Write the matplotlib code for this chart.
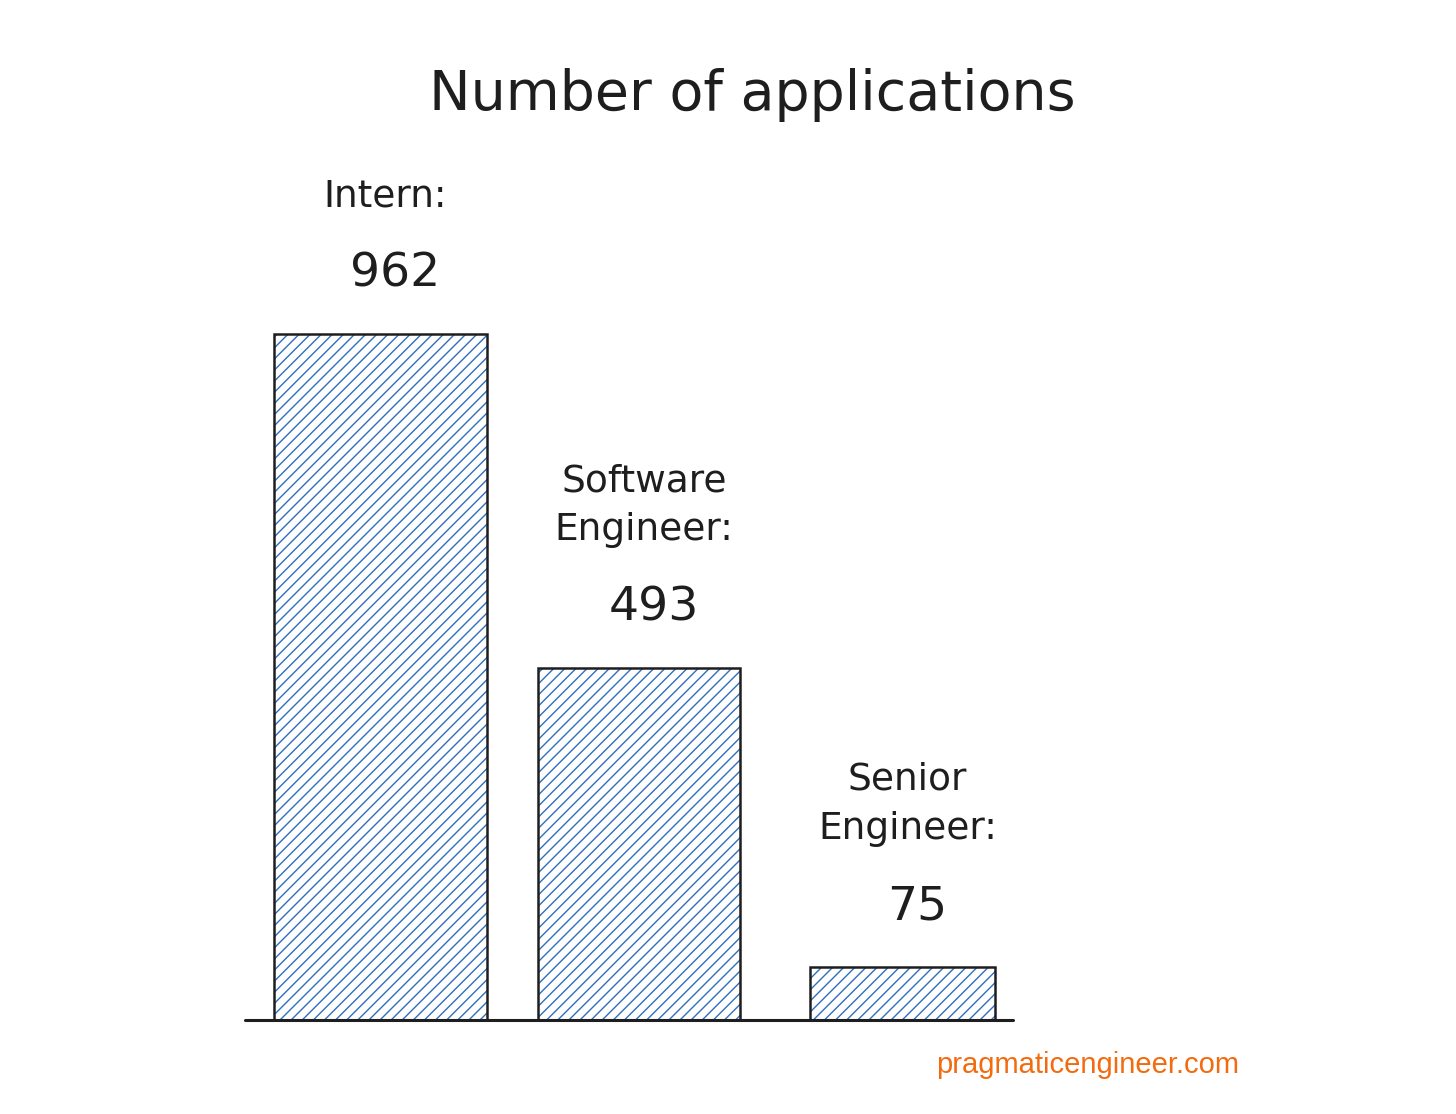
import matplotlib
matplotlib.use("Agg")
import matplotlib.pyplot as plt

categories = ["Intern:", "Software\nEngineer:", "Senior\nEngineer:"]
values = [962, 493, 75]
title = "Number of applications"
watermark = "pragmaticengineer.com"

plt.rcParams['hatch.linewidth'] = 1.0
fig = plt.figure(figsize=(14.56, 11.14), dpi=100)
base = 1020 / 1114
ax = fig.add_axes([0, 1 - base, 1, base])
scale = 0.713  # px per unit
ax.set_xlim(0, 1456)
ax.set_ylim(0, 1020 / scale)
ax.axis("off")

lefts = [274, 538, 810]
widths = [213, 202, 185]
bars = ax.bar(lefts, values, width=widths, align="edge", facecolor="white",
              edgecolor="#2f6fbf", hatch="///", linewidth=0)
ax.bar(lefts, values, width=widths, align="edge", fill=False,
       edgecolor="#1e1e1e", linewidth=1.8)
ax.plot([245, 1013], [0, 0], color="#1e1e1e", lw=2.2, solid_capstyle="round", clip_on=False)

fnt = dict(family="DejaVu Sans", color="#1e1e1e")
for l, w, v, c in zip(lefts, widths, values, categories):
    cx = l + w / 2
    ax.text(cx + 15, v + 60 / scale, str(v), ha="center", va="center", fontsize=34, **fnt)
    ax.text(cx + 5, v + 60 / scale + 60 / scale, c, ha="center", va="bottom",
            fontsize=27, linespacing=1.45, **fnt)

fig.text(752 / 1456, 1 - 95 / 1114, title, ha="center", va="center", fontsize=40, **fnt)
fig.text(1088 / 1456, 1 - 1065 / 1114, watermark, ha="center", va="center",
         fontsize=21, color="#f26b0f", family="Liberation Sans")
fig.savefig("out.png", dpi=100, facecolor="white")
